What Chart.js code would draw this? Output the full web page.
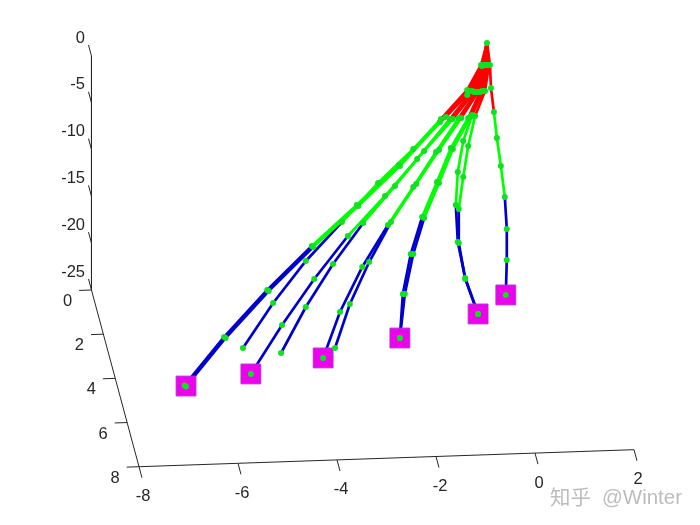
<!DOCTYPE html>
<html><head><meta charset="utf-8">
<style>html,body{margin:0;padding:0;background:#fff}canvas{display:block}</style>
<script src="https://cdn.jsdelivr.net/npm/chart.js@4"></script>
</head><body><canvas id="c" width="700" height="525"></canvas>
<script>
// Tick labels
const xTicks=[-8,-6,-4,-2,0,2];
const yTicks=[0,2,4,6,8];
const zTicks=[0,-5,-10,-15,-20,-25];
// Root of every chain, read in view-plane axis units (u along x axis, v along z axis)
const rootU=-0.97, rootV=1.39;
const chainRU=[-0.91,-0.89,-0.83,-0.77,-0.69,-0.61,-0.57,-0.57,-0.59];
const chainRV=[-0.96,-3.42,-5.98,-8.76,-11.75,-15.06,-18.48,-21.79,-25.53];
const chainH1U=[-0.95,-1.05,-1.27,-1.45,-1.56,-1.60,-1.56,-1.41,-1.15];
const chainH1V=[-0.96,-3.74,-6.30,-9.08,-12.39,-15.92,-19.87,-23.72,-27.56];
const chainH2U=[-0.93,-1.01,-1.21,-1.35,-1.45,-1.54,-1.54,-1.41,-1.15];
const chainH2V=[-0.96,-3.74,-6.41,-9.62,-12.93,-16.35,-19.98,-23.82,-27.56];
const chainG1U=[-0.99,-1.11,-1.35,-1.70,-1.98,-2.28,-2.51,-2.67,-2.73];
const chainG1V=[-0.96,-3.85,-6.62,-9.83,-13.46,-17.20,-21.15,-25.43,-30.13];
const chainG2U=[-0.97,-1.07,-1.31,-1.66,-1.94,-2.24,-2.46,-2.63,-2.73];
const chainG2V=[-0.96,-3.74,-6.52,-9.94,-13.57,-17.31,-21.15,-25.43,-30.13];
const chainFU=[-1.01,-1.15,-1.49,-1.94,-2.40,-2.91,-3.35,-3.74,-4.04];
const chainFV=[-0.96,-3.85,-6.62,-10.04,-13.68,-17.74,-22.01,-26.50,-31.20];
const chainEU=[-1.03,-1.19,-1.54,-2.00,-2.46,-2.97,-3.49,-3.94,-4.28];
const chainEV=[-0.96,-3.85,-6.62,-10.26,-14.00,-18.06,-22.54,-27.35,-32.26];
const chainDU=[-1.03,-1.23,-1.66,-2.24,-2.83,-3.47,-4.08,-4.63,-5.13];
const chainDV=[-0.96,-3.85,-6.73,-10.15,-13.89,-17.84,-22.22,-26.82,-31.73];
const chainCU=[-1.05,-1.27,-1.72,-2.38,-3.03,-3.78,-4.46,-5.11,-5.74];
const chainCV=[-0.96,-3.74,-6.73,-11.00,-14.96,-19.23,-23.82,-28.74,-33.97];
const chainBU=[-1.07,-1.33,-1.80,-2.46,-3.17,-3.90,-4.63,-5.29,-5.90];
const chainBV=[-0.96,-3.74,-6.52,-9.94,-13.57,-17.74,-21.90,-26.39,-31.20];
const chainA1U=[-1.09,-1.37,-1.90,-2.75,-3.60,-4.51,-5.41,-6.28,-7.08];
const chainA1V=[-0.96,-3.63,-6.73,-11.65,-15.92,-20.30,-25.00,-30.02,-35.20];
const chainA2U=[-1.07,-1.37,-1.92,-2.73,-3.57,-4.48,-5.38,-6.25,-7.05];
const chainA2V=[-1.07,-4.17,-7.05,-11.75,-16.02,-20.41,-25.11,-30.13,-35.31];
// Target squares
const targetU=[-7.05,-5.74,-4.28,-2.73,-1.15,-0.59];
const targetV=[-35.26,-33.97,-32.26,-30.13,-27.56,-25.53];

const chains=[[chainRU,chainRV],[chainH1U,chainH1V],[chainH2U,chainH2V],[chainG1U,chainG1V],[chainG2U,chainG2V],
 [chainFU,chainFV],[chainEU,chainEV],[chainDU,chainDV],[chainCU,chainCV],[chainBU,chainBV],[chainA1U,chainA1V],[chainA2U,chainA2V]];

// View projection of the 3-D axes box onto the (u,v) plane
const proj=(x,y,z)=>({x:x+0.12*(y-8),y:z-2.36*y+0.182*(x+8)});

const AXIS='#262626';
const datasets=[];
function line(pts,color,width,order){datasets.push({data:pts,showLine:true,borderColor:color,borderWidth:width,pointRadius:0,order:order,fill:false,tension:0});}
// axes
line([proj(-8,0,0),proj(-8,0,-25)],AXIS,1,10);
line([proj(-8,0,-25),proj(-8,8,-25)],AXIS,1,10);
line([proj(-8,8,-25),proj(2,8,-25)],AXIS,1,10);
zTicks.forEach(z=>line([proj(-8,0,z),proj(-8,-0.5,z)],AXIS,1,10));
yTicks.forEach(y=>line([proj(-8,y,-25),proj(-8.25,y,-25)],AXIS,1,10));
xTicks.forEach(x=>line([proj(x,8,-25),proj(x,8.5,-25)],AXIS,1,10));
// chain segments: red, green, blue
const dots=[{x:rootU,y:rootV}];
chains.forEach(([U,V])=>{
  const p=[{x:rootU,y:rootV}].concat(U.map((u,i)=>({x:u,y:V[i]})));
  line(p.slice(6,10),'#0000cd',2.7,5);
  line(p.slice(3,7),'#00ff00',2.7,4);
  line(p.slice(0,4),'#ff0000',2.7,3);
  dots.push(...p.slice(1));
});
datasets.push({data:targetU.map((u,i)=>({x:u,y:targetV[i]})),showLine:false,pointStyle:'rect',pointRadius:14,pointBackgroundColor:'#ee00ee',pointBorderColor:'#b030d8',pointBorderWidth:1,order:2});
datasets.push({data:dots,showLine:false,pointStyle:'circle',pointRadius:3,pointBackgroundColor:'#10e020',pointBorderWidth:0,order:1});

const labels={id:'labels',afterDraw(ch){
  const c=ch.ctx,sx=ch.scales.x,sy=ch.scales.y;
  const P=(p)=>[sx.getPixelForValue(p.x),sy.getPixelForValue(p.y)];
  c.save();c.fillStyle=AXIS;c.font='16.5px "Liberation Sans"';c.textBaseline='middle';
  c.textAlign='right';
  zTicks.forEach(z=>{const [a,b]=P(proj(-8,0,z));c.fillText(String(z),a-6.5,b-18);});
  c.textAlign='center';
  yTicks.forEach(y=>{const [a,b]=P(proj(-8,y,-25));c.fillText(String(y),a-24,b+11.5);});
  xTicks.forEach(x=>{const [a,b]=P(proj(x,8,-25));c.fillText(String(x),a+4,b+30);});
  // watermark
  c.textAlign='left';c.fillStyle='#bcbcbc';
  c.font='20.5px "Noto Sans CJK SC"';c.fillText('知乎',550,497);
  c.font='20.5px "Liberation Sans"';c.fillText('@Winter',602,498);
  c.restore();
}};

new Chart(document.getElementById('c'),{type:'scatter',data:{datasets},
 options:{responsive:false,animation:false,devicePixelRatio:1,
  layout:{padding:0,autoPadding:false},
  plugins:{legend:{display:false},tooltip:{enabled:false}},
  scales:{x:{type:'linear',display:false,min:-10.808,max:3.333},
          y:{type:'linear',display:false,min:-50.107,max:5.983}}},
 plugins:[labels]});
</script></body></html>
